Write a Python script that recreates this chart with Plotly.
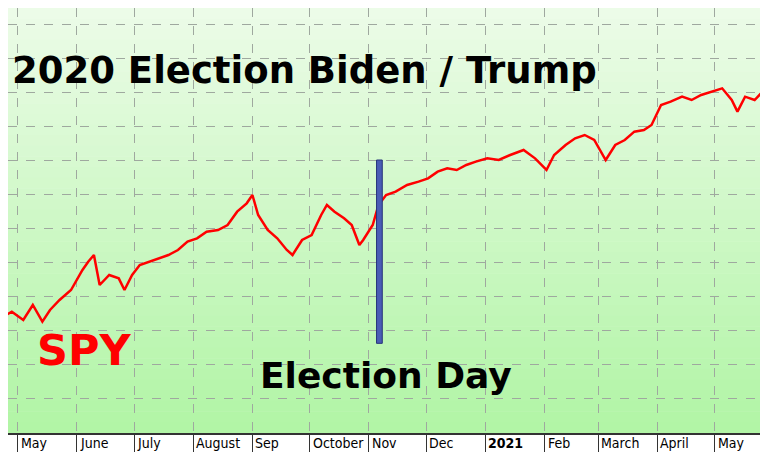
import plotly.graph_objects as go

# SPY path (approximate)
dates = ["2020-04-22", "2020-04-28", "2020-05-04", "2020-05-09", "2020-05-14", "2020-05-18", "2020-05-23",
         "2020-05-29", "2020-06-04", "2020-06-07", "2020-06-10", "2020-06-13", "2020-06-18", "2020-06-23",
         "2020-06-26", "2020-06-30", "2020-07-04", "2020-07-09", "2020-07-14", "2020-07-19", "2020-07-24",
         "2020-07-29", "2020-08-03", "2020-08-08", "2020-08-14", "2020-08-19", "2020-08-24", "2020-08-29",
         "2020-09-01", "2020-09-04", "2020-09-09", "2020-09-14", "2020-09-19", "2020-09-22", "2020-09-27",
         "2020-10-02", "2020-10-07", "2020-10-10", "2020-10-14", "2020-10-19", "2020-10-23", "2020-10-27",
         "2020-10-29", "2020-11-03", "2020-11-06", "2020-11-10", "2020-11-15", "2020-11-21", "2020-11-27",
         "2020-12-02", "2020-12-07", "2020-12-12", "2020-12-17", "2020-12-22", "2020-12-27", "2021-01-02",
         "2021-01-08", "2021-01-14", "2021-01-21", "2021-01-27", "2021-02-02", "2021-02-06", "2021-02-12",
         "2021-02-17", "2021-02-22", "2021-02-27", "2021-03-05", "2021-03-10", "2021-03-15", "2021-03-20",
         "2021-03-25", "2021-03-29", "2021-04-03", "2021-04-08", "2021-04-14", "2021-04-19", "2021-04-24",
         "2021-04-29", "2021-05-05", "2021-05-10", "2021-05-13", "2021-05-17", "2021-05-22", "2021-05-27"]
spy = [283, 287, 282, 291, 281, 288, 294,
       300, 312, 317, 321, 303, 309, 307,
       300, 309, 315, 317, 319, 321, 324,
       329, 331, 335, 336, 339, 347, 352,
       357, 345, 336, 331, 324, 321, 330,
       333, 345, 351, 347, 343, 339, 327,
       330, 339, 351, 357, 359, 363, 365,
       367, 371, 373, 372, 375, 377, 379,
       378, 381, 384, 379, 372, 381, 387,
       391, 393, 390, 378, 387, 390, 395,
       396, 399, 411, 413, 416, 414, 417,
       419, 421, 414, 407, 416, 414, 420]

month_ticks = ["2020-05-01", "2020-06-01", "2020-07-01", "2020-08-01", "2020-09-01", "2020-10-01", "2020-11-01",
               "2020-12-01", "2021-01-01", "2021-02-01", "2021-03-01", "2021-04-01", "2021-05-01"]
month_labels = ["May", "June", "July", "August", "Sep", "October", "Nov",
                "Dec", "<b>2021</b>", "Feb", "March", "April", "May"]

fig = go.Figure()

# green gradient background made from thin stripes
n = 40
top, bot = (236, 252, 232), (178, 245, 166)
for i in range(n):
    t = i / (n - 1)
    c = tuple(int(top[k] + (bot[k] - top[k]) * t) for k in range(3))
    fig.add_shape(type="rect", xref="paper", yref="paper", x0=0, x1=1,
                  y0=1 - (i + 1) / n, y1=1 - i / n + 0.001,
                  fillcolor="rgb(%d,%d,%d)" % c, line_width=0, layer="below")

fig.add_trace(go.Scatter(x=dates, y=spy, mode="lines",
                         line=dict(color="#ff0000", width=2.5), showlegend=False))

# election day bar
fig.add_shape(type="rect", x0="2020-11-05", x1="2020-11-08", y0=268, y1=378,
              fillcolor="#4a5cb5", line=dict(color="#26337a", width=1))

for d, lab in zip(month_ticks, month_labels):
    fig.add_annotation(x=d, y=0, xref="x", yref="paper", yanchor="middle", xanchor="left",
                       text=lab, showarrow=False, xshift=1, yshift=-10,
                       font=dict(family="DejaVu Sans Condensed, Liberation Sans", size=14, color="#000"))

fig.add_annotation(x=0.003, y=0.854, xref="paper", yref="paper", xanchor="left", yanchor="middle",
                   text="<b>2020 Election Biden / Trump</b>", showarrow=False,
                   font=dict(family="DejaVu Sans", size=37, color="#000"))
fig.add_annotation(x=0.036, y=0.195, xref="paper", yref="paper", xanchor="left", yanchor="middle",
                   text="<b>SPY</b>", showarrow=False,
                   font=dict(family="DejaVu Sans", size=43, color="#ff0000"))
fig.add_annotation(x=0.329, y=0.136, xref="paper", yref="paper", xanchor="left", yanchor="middle",
                   text="<b>Election Day</b>", showarrow=False,
                   font=dict(family="DejaVu Sans", size=36, color="#000"))

fig.update_layout(
    width=760, height=444, margin=dict(l=0, r=0, t=0, b=19),
    paper_bgcolor="#ffffff", plot_bgcolor="rgba(0,0,0,0)",
    xaxis=dict(range=["2020-04-26", "2021-05-29"], tickvals=month_ticks, showticklabels=False,
               ticks="outside", ticklen=19, tickcolor="#333", tickwidth=1,
               showgrid=True, gridcolor="#9fa89f", griddash="dash", gridwidth=1,
               showline=True, linecolor="#333", linewidth=2, zeroline=False),
    yaxis=dict(range=[214.2, 469.2], tick0=459.6, dtick=20.4, showticklabels=False,
               showgrid=True, gridcolor="#9fa89f", griddash="dash", gridwidth=1, zeroline=False),
)

fig.write_html("out.html")
